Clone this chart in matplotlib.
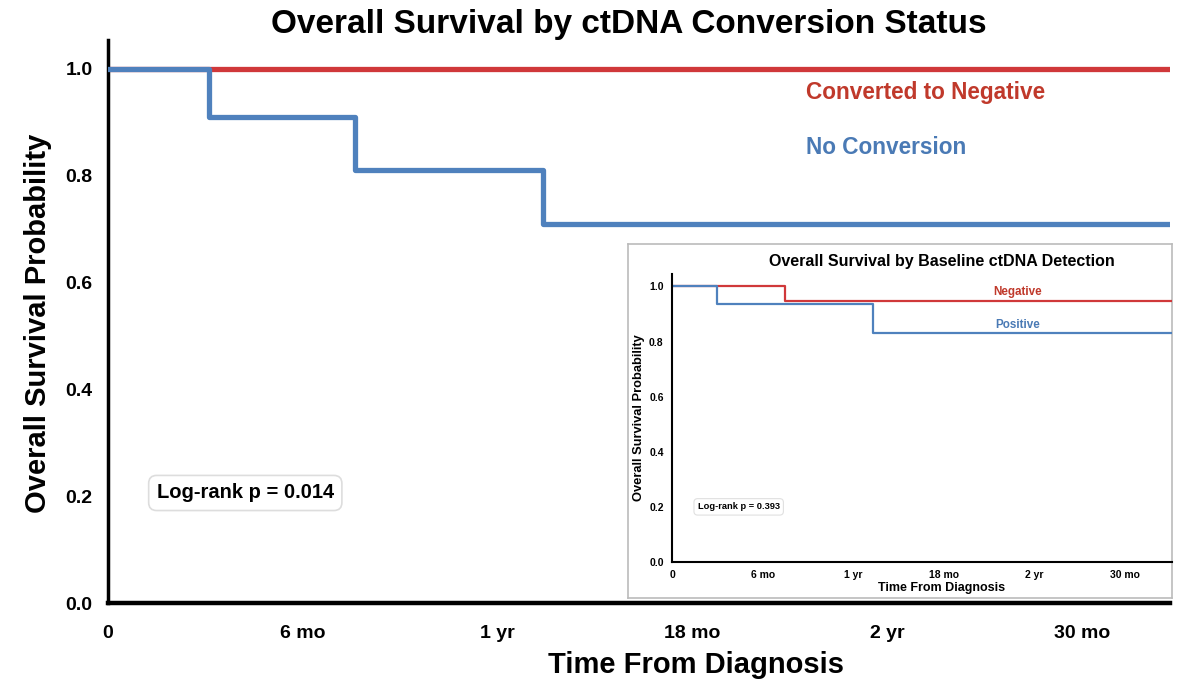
import matplotlib
matplotlib.use("Agg")
import matplotlib.pyplot as plt

plt.rcParams['font.family'] = ['Liberation Sans', 'DejaVu Sans']

# main panel: ctDNA conversion status (months, survival probability)
conv_t = [0, 32.7]
conv_s = [1.0, 1.0]
noconv_t = [0, 3.1, 7.6, 13.4, 32.7]
noconv_s = [1.0, 0.91, 0.81, 0.71, 0.71]

# inset: baseline ctDNA detection
neg_t = [0, 7.5, 33.1]
neg_s = [1.0, 0.946, 0.946]
pos_t = [0, 2.95, 13.3, 33.1]
pos_s = [1.0, 0.935, 0.83, 0.83]

tick_pos = [0, 6, 12, 18, 24, 30]
tick_lab = ['0', '6 mo', '1 yr', '18 mo', '2 yr', '30 mo']

red = '#d0383a'
blue = '#4f81bd'
red_txt = '#c0392b'
blue_txt = '#4a7ab5'

fig = plt.figure(figsize=(12, 6.84), dpi=100)
ax = fig.add_axes([0.09, 0.1184, 0.885, 0.8231])
ax.step(conv_t, conv_s, where='post', color=red, lw=3.8, zorder=2)
ax.step(noconv_t, noconv_s, where='post', color=blue, lw=3.8, zorder=3)
ax.set_xlim(0, 32.7)
ax.set_ylim(0, 1.054)
ax.set_xticks(tick_pos)
ax.set_xticklabels(tick_lab)
ax.set_yticks([0, 0.2, 0.4, 0.6, 0.8, 1.0])
ax.set_yticklabels(['0.0', '0.2', '0.4', '0.6', '0.8', '1.0'])
ax.tick_params(length=0, labelsize=14, pad=16)
ax.tick_params(axis='y', pad=11)
for lab in ax.get_xticklabels() + ax.get_yticklabels():
    lab.set_fontweight('bold')
for s in ['top', 'right']:
    ax.spines[s].set_visible(False)
ax.spines['left'].set_linewidth(2.5)
ax.spines['bottom'].set_linewidth(3.2)
ax.set_xlabel('Time From Diagnosis', fontsize=21, fontweight='bold', labelpad=6)
ax.xaxis.set_label_coords(0.554, -0.085)
ax.set_ylabel('Overall Survival Probability', fontsize=21, fontweight='bold')
ax.yaxis.set_label_coords(-0.053, 0.496)
ax.set_title('Overall Survival by ctDNA Conversion Status', fontsize=24,
             fontweight='bold', pad=5, x=0.49)
ax.text(21.5, 0.955, 'Converted to Negative', color=red_txt, fontsize=16.3,
        fontweight='bold', va='center', ha='left')
ax.text(21.5, 0.852, 'No Conversion', color=blue_txt, fontsize=16.3,
        fontweight='bold', va='center', ha='left')
ax.text(1.5, 0.206, 'Log-rank p = 0.014', fontsize=14.5, fontweight='bold',
        va='center', ha='left',
        bbox=dict(boxstyle='round,pad=0.4', fc='white', ec='#dddddd', lw=1.2))

# inset panel background with grey frame
bg = fig.add_axes([0.5233, 0.1257, 0.4533, 0.5175])
bg.set_xticks([])
bg.set_yticks([])
for s in bg.spines.values():
    s.set_color('#bbbbbb')
    s.set_linewidth(1.2)
bg.set_zorder(5)

ins = fig.add_axes([0.56, 0.1784, 0.4167, 0.421])
ins.set_zorder(6)
ins.patch.set_alpha(0)
ins.step(neg_t, neg_s, where='post', color=red, lw=1.6)
ins.step(pos_t, pos_s, where='post', color=blue, lw=1.6)
ins.set_xlim(0, 33.1)
ins.set_ylim(0, 1.045)
ins.set_xticks(tick_pos)
ins.set_xticklabels(tick_lab)
ins.set_yticks([0, 0.2, 0.4, 0.6, 0.8, 1.0])
ins.set_yticklabels(['0.0', '0.2', '0.4', '0.6', '0.8', '1.0'])
ins.tick_params(length=0, labelsize=7.5, pad=6)
for lab in ins.get_xticklabels() + ins.get_yticklabels():
    lab.set_fontweight('bold')
for s in ['top', 'right']:
    ins.spines[s].set_visible(False)
ins.spines['left'].set_linewidth(1.5)
ins.spines['bottom'].set_linewidth(1.5)
ins.set_xlabel('Time From Diagnosis', fontsize=9, fontweight='bold', labelpad=0)
ins.xaxis.set_label_coords(0.54, -0.07)
ins.set_ylabel('Overall Survival Probability', fontsize=9.3, fontweight='bold')
ins.yaxis.set_label_coords(-0.054, 0.5)
ins.set_title('Overall Survival by Baseline ctDNA Detection', fontsize=11.5,
              fontweight='bold', pad=6, x=0.54)
ins.text(22.9, 0.979, 'Negative', color=red_txt, fontsize=8.4, fontweight='bold',
         ha='center', va='center')
ins.text(22.9, 0.86, 'Positive', color=blue_txt, fontsize=8.4, fontweight='bold',
         ha='center', va='center')
ins.text(1.7, 0.2, 'Log-rank p = 0.393', fontsize=6.7, fontweight='bold',
         ha='left', va='center',
         bbox=dict(boxstyle='round,pad=0.4', fc='white', ec='#e0e0e0', lw=0.8))

fig.savefig('out.png', dpi=100)
